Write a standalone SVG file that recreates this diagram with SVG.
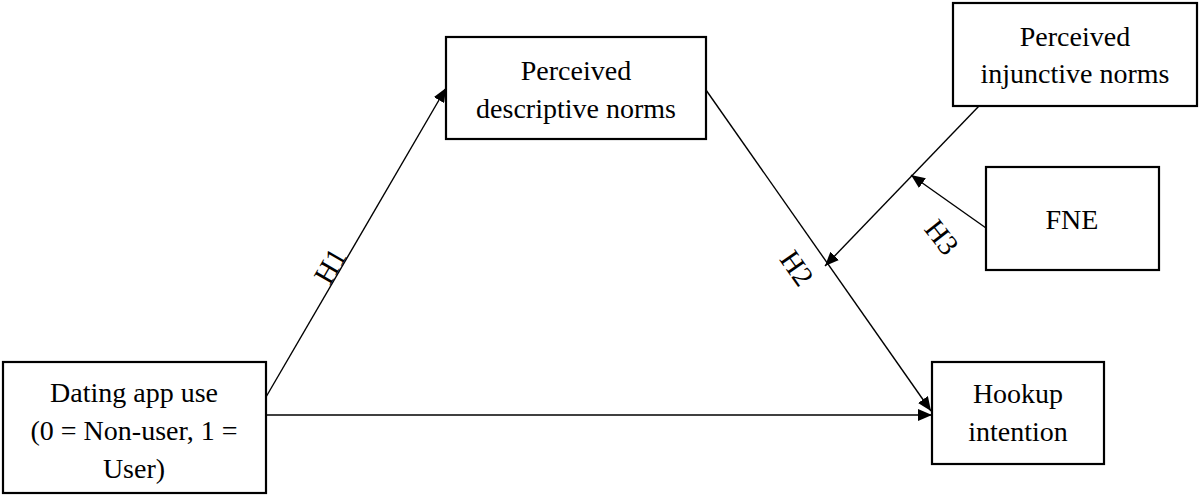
<svg xmlns="http://www.w3.org/2000/svg" width="1200" height="496" viewBox="0 0 1200 496">
<style>
.box{fill:#fff;stroke:#000;stroke-width:2.2}
.t{font-family:"Liberation Serif","Times New Roman",serif;font-size:28px;fill:#000;text-anchor:middle}
.l{font-family:"Liberation Serif","Times New Roman",serif;font-size:29px;fill:#000;text-anchor:middle}
.c{stroke:#000;stroke-width:1.4;fill:none}
</style>
<defs>
<marker id="ah" viewBox="0 0 14 12" refX="14" refY="6" markerWidth="14" markerHeight="12" markerUnits="userSpaceOnUse" orient="auto">
<path d="M0,0 L14,6 L0,12 Z" fill="#000"/>
</marker>
</defs>
<rect width="1200" height="496" fill="#fff"/>
<g id="connectors">
<line class="c" x1="266" y1="397" x2="446" y2="88" marker-end="url(#ah)"/>
<line class="c" x1="266" y1="415" x2="932" y2="415" marker-end="url(#ah)"/>
<line class="c" x1="706" y1="90" x2="931" y2="411" marker-end="url(#ah)"/>
<line class="c" x1="979" y1="106" x2="825" y2="266" marker-end="url(#ah)"/>
<line class="c" x1="986" y1="228" x2="911" y2="175" marker-end="url(#ah)"/>
<text class="l" transform="translate(330,266) rotate(-60)" dy="10">H1</text>
<text class="l" transform="translate(797,268) rotate(55)" dy="10">H2</text>
<text class="l" transform="translate(942,237) rotate(52)" dy="10">H3</text>
</g>
<g id="dating">
<rect class="box" x="3" y="362" width="263" height="131"/>
<text class="t" x="134" y="402">Dating app use</text>
<text class="t" x="134" y="440">(0 = Non-user, 1 =</text>
<text class="t" x="134" y="478">User)</text>
</g>
<g id="descriptive">
<rect class="box" x="446" y="37" width="260" height="102"/>
<text class="t" x="576" y="80">Perceived</text>
<text class="t" x="576" y="118">descriptive norms</text>
</g>
<g id="injunctive">
<rect class="box" x="953" y="3" width="244" height="103"/>
<text class="t" x="1075" y="46">Perceived</text>
<text class="t" x="1075" y="83">injunctive norms</text>
</g>
<g id="fne">
<rect class="box" x="986" y="167" width="173" height="103"/>
<text class="t" x="1072" y="229">FNE</text>
</g>
<g id="hookup">
<rect class="box" x="932" y="362" width="172" height="102"/>
<text class="t" x="1018" y="403">Hookup</text>
<text class="t" x="1018" y="441">intention</text>
</g>
</svg>
